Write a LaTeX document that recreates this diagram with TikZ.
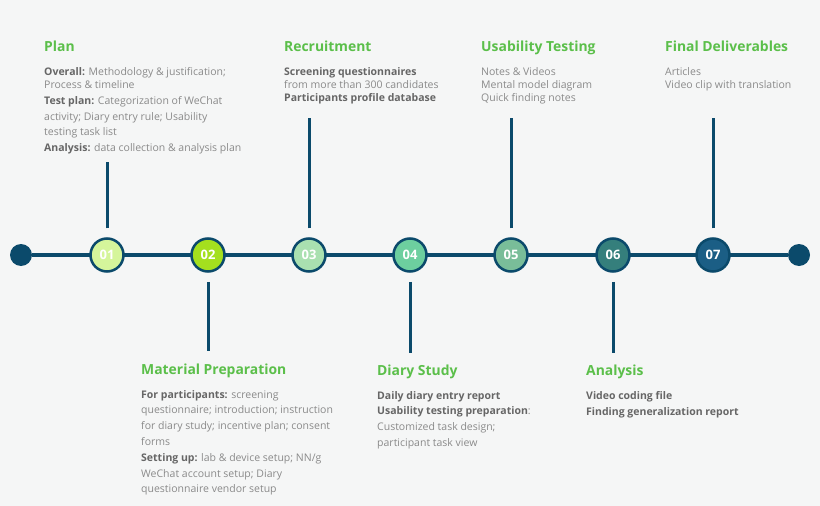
\documentclass[tikz,border=0pt]{standalone}
\usepackage{fontspec}
\setmainfont{Open Sans}
\definecolor{bg}{HTML}{F5F6F6}
\definecolor{navy}{HTML}{0B4A6B}
\definecolor{ttl}{HTML}{5BBF4A}
\definecolor{txt}{HTML}{8A8A8A}
\definecolor{bld}{HTML}{666666}
\definecolor{fa}{HTML}{D5F59B}
\definecolor{fb}{HTML}{A4E01E}
\definecolor{fc}{HTML}{A9E0B0}
\definecolor{fd}{HTML}{6DCF9F}
\definecolor{fe}{HTML}{79BD99}
\definecolor{ff}{HTML}{357F7C}
\definecolor{fg}{HTML}{1B5E85}
\newcommand{\bl}[1]{{\bfseries\color{bld}#1}}
\begin{document}
\begin{tikzpicture}[x=1pt,y=-1pt,
  stepcircle/.style={circle,draw=navy,line width=2.5pt,minimum size=33pt,inner sep=0pt,
    text=white,font=\fontsize{13}{13}\selectfont\bfseries},
  enddot/.style={circle,fill=navy,minimum size=22pt,inner sep=0pt},
  mainline/.style={navy,line width=4pt},
  stem/.style={navy,line width=3pt,shorten <=9pt},
  title/.style={anchor=base west,inner sep=0pt,text=ttl,font=\fontsize{13.9}{13.9}\selectfont\bfseries},
  body/.style={anchor=north west,inner sep=0pt,align=left,text=txt,font=\fontsize{10.5}{15.8}\selectfont},
  bodytight/.style={body,font=\fontsize{10.5}{13.3}\selectfont}]
\fill[bg] (0,0) rectangle (820,506);
\useasboundingbox (0,0) rectangle (820,506);
% timeline
\node[enddot] (s) at (21,255) {};
\node[enddot] (e) at (799,255) {};
\draw[mainline] (s) -- (e);
\node[stepcircle,fill=fa] (c1) at (107,255) {01};
\node[stepcircle,fill=fb] (c2) at (208,255) {02};
\node[stepcircle,fill=fc] (c3) at (309,255) {03};
\node[stepcircle,fill=fd] (c4) at (410,255) {04};
\node[stepcircle,fill=fe] (c5) at (511,255) {05};
\node[stepcircle,fill=ff] (c6) at (613,255) {06};
\node[stepcircle,fill=fg] (c7) at (713,255) {07};
% stems
\coordinate (t1) at (107,162);
\coordinate (t3) at (309,118);
\coordinate (t5) at (511,118);
\coordinate (t7) at (713,118);
\coordinate (b2) at (208,351);
\coordinate (b4) at (410,353);
\coordinate (b6) at (613,353);
\draw[stem] (c1) -- (t1);
\draw[stem] (c3) -- (t3);
\draw[stem] (c5) -- (t5);
\draw[stem] (c7) -- (t7);
\draw[stem] (c2) -- (b2);
\draw[stem] (c4) -- (b4);
\draw[stem] (c6) -- (b6);
% top texts
\node[title] (h1) at (44,51) {Plan};
\node[body] (p1) at (44,67) {\bl{Overall:} Methodology \& justification;\\[-2.5pt]
Process \& timeline\\
\bl{Test plan:} Categorization of WeChat\\
activity; Diary entry rule; Usability\\
testing task list\\
\bl{Analysis:} data collection \& analysis plan};
\node[title] (h3) at (284,51) {Recruitment};
\node[bodytight] (p3) at (284,67) {\bl{Screening questionnaires}\\
from more than 300 candidates\\
\bl{Participants profile database}};
\node[title] (h5) at (481,51) {Usability Testing};
\node[bodytight] (p5) at (481,67) {Notes \& Videos\\
Mental model diagram\\
Quick finding notes};
\node[title] (h7) at (665,51) {Final Deliverables};
\node[bodytight] (p7) at (665,67) {Articles\\
Video clip with translation};
% bottom texts
\node[title] (h2) at (141,374) {Material Preparation};
\node[body] (p2) at (141,390) {\bl{For participants:} screening\\
questionnaire; introduction; instruction\\
for diary study; incentive plan; consent\\
forms\\
\bl{Setting up:} lab \& device setup; NN/g\\
WeChat account setup; Diary\\
questionnaire vendor setup};
\node[title] (h4) at (377,375) {Diary Study};
\node[body] (p4) at (377,391) {\bl{Daily diary entry report}\\
\bl{Usability testing preparation}:\\
Customized task design;\\
participant task view};
\node[title] (h6) at (586,375) {Analysis};
\node[body] (p6) at (586,391) {\bl{Video coding file}\\
\bl{Finding generalization report}};
\end{tikzpicture}
\end{document}
